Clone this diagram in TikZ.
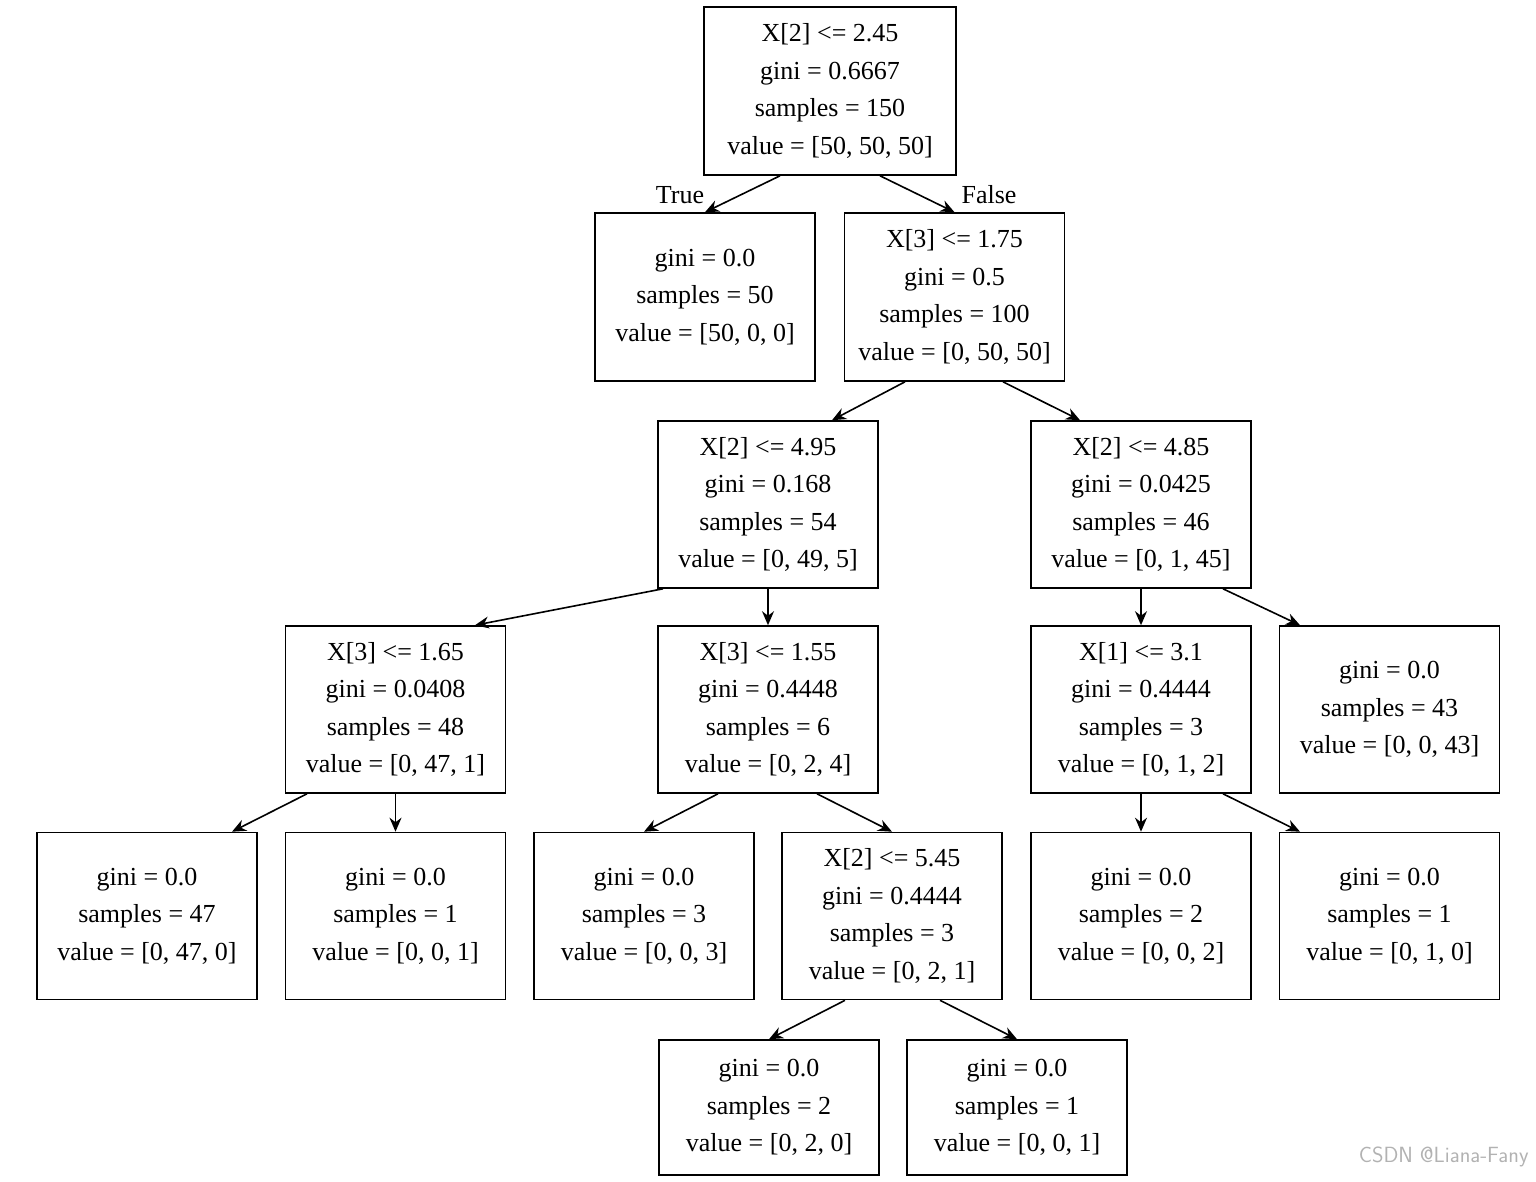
\documentclass[tikz,border=0pt]{standalone}
\usepackage{fontspec}
\setmainfont{Liberation Serif}
\usetikzlibrary{calc,arrows.meta}
\begin{document}
\begin{tikzpicture}[x=1pt,y=-1pt,
  box/.style={draw,line width=1.6pt,minimum width=220pt,minimum height=167pt,inner sep=0pt,align=center,font=\fontsize{26}{37.5}\selectfont},
  edge/.style={line width=1.6pt,-{Stealth[length=14pt,width=12pt]}},
  lab/.style={font=\fontsize{26}{30}\selectfont}]
\useasboundingbox (0,0) rectangle (1536,1182);
\node[box,minimum width=252pt,minimum height=168pt] (r) at (830,91) {X[2] <= 2.45\\gini = 0.6667\\samples = 150\\value = [50, 50, 50]};
\node[box,minimum height=168pt] (t) at (705,297) {gini = 0.0\\samples = 50\\value = [50, 0, 0]};
\node[box,minimum height=168pt] (f) at (954.5,297) {X[3] <= 1.75\\gini = 0.5\\samples = 100\\value = [0, 50, 50]};
\node[box] (a) at (768,504.5) {X[2] <= 4.95\\gini = 0.168\\samples = 54\\value = [0, 49, 5]};
\node[box] (b) at (1141,504.5) {X[2] <= 4.85\\gini = 0.0425\\samples = 46\\value = [0, 1, 45]};
\node[box] (c) at (395.5,709.5) {X[3] <= 1.65\\gini = 0.0408\\samples = 48\\value = [0, 47, 1]};
\node[box] (d) at (768,709.5) {X[3] <= 1.55\\gini = 0.4448\\samples = 6\\value = [0, 2, 4]};
\node[box] (e) at (1141,709.5) {X[1] <= 3.1\\gini = 0.4444\\samples = 3\\value = [0, 1, 2]};
\node[box] (g) at (1389.5,709.5) {gini = 0.0\\samples = 43\\value = [0, 0, 43]};
\node[box] (l1) at (147,916) {gini = 0.0\\samples = 47\\value = [0, 47, 0]};
\node[box] (l2) at (395.5,916) {gini = 0.0\\samples = 1\\value = [0, 0, 1]};
\node[box] (l3) at (644,916) {gini = 0.0\\samples = 3\\value = [0, 0, 3]};
\node[box] (h) at (892,916) {X[2] <= 5.45\\gini = 0.4444\\samples = 3\\value = [0, 2, 1]};
\node[box] (l5) at (1141,916) {gini = 0.0\\samples = 2\\value = [0, 0, 2]};
\node[box] (l6) at (1389.5,916) {gini = 0.0\\samples = 1\\value = [0, 1, 0]};
\node[box,minimum height=135pt] (m1) at (769,1107.5) {gini = 0.0\\samples = 2\\value = [0, 2, 0]};
\node[box,minimum height=135pt] (m2) at (1017,1107.5) {gini = 0.0\\samples = 1\\value = [0, 0, 1]};
\draw[edge] ($(r.south)+(-50,0)$) -- ($(t.north)+(0,0)$);
\draw[edge] ($(r.south)+(50,0)$) -- ($(f.north)+(0,0)$);
\node[lab] (tl) at (680,195) {True};
\node[lab] (fl) at (989,195) {False};
\draw[edge] ($(f.south)+(-49.5,0)$) -- ($(a.north)+(64,0)$);
\draw[edge] ($(f.south)+(48.5,0)$) -- ($(b.north)+(-61,0)$);
\draw[edge] ($(a.south)+(-105,0)$) -- ($(c.north)+(79.5,0)$);
\draw[edge] (a.south) -- (d.north);
\draw[edge] (b.south) -- (e.north);
\draw[edge] ($(b.south)+(82,0)$) -- ($(g.north)+(-89.5,0)$);
\draw[edge] ($(c.south)+(-88.5,0)$) -- ($(l1.north)+(85,0)$);
\draw[edge] (c.south) -- (l2.north);
\draw[edge] ($(d.south)+(-50,0)$) -- (l3.north);
\draw[edge] ($(d.south)+(49,0)$) -- (h.north);
\draw[edge] (e.south) -- (l5.north);
\draw[edge] ($(e.south)+(82,0)$) -- ($(l6.north)+(-89.5,0)$);
\draw[edge] ($(h.south)+(-47,0)$) -- (m1.north);
\draw[edge] ($(h.south)+(48,0)$) -- (m2.north);
\node[font=\fontsize{22}{26}\selectfont\sffamily,text=gray!60,anchor=east] (wm) at (1532,1157) {CSDN @Liana-Fany};
\end{tikzpicture}
\end{document}
